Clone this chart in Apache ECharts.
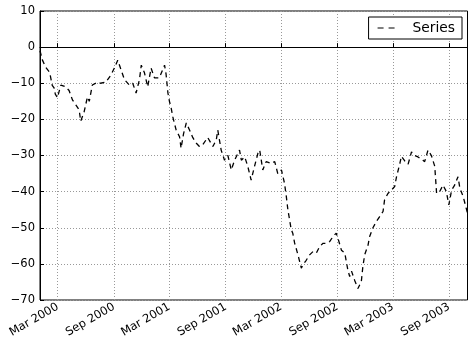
<!DOCTYPE html>
<html><head><meta charset="utf-8">
<script src="https://cdn.jsdelivr.net/npm/echarts@6/dist/echarts.min.js"></script>
<style>html,body{margin:0;padding:0;background:#fff}#c{width:474px;height:347px}</style>
</head><body><div id="c"></div>
<script>
const seriesName = 'Series';
const dates = [
'2000-01-03','2000-01-05','2000-01-11','2000-01-21','2000-02-02','2000-02-06','2000-02-12','2000-02-18','2000-02-22','2000-02-29',
'2000-03-11','2000-03-27','2000-04-07','2000-04-18','2000-04-29','2000-05-10','2000-05-15','2000-05-26','2000-06-06','2000-06-12',
'2000-06-22','2000-07-09','2000-07-19','2000-08-05','2000-08-22','2000-09-02','2000-09-13','2000-09-24','2000-10-05','2000-10-21',
'2000-11-01','2000-11-12','2000-11-23','2000-11-29','2000-12-09','2000-12-20','2000-12-31','2001-01-11','2001-01-27','2001-02-13',
'2001-02-18','2001-02-24','2001-03-01','2001-03-07','2001-03-12','2001-03-23','2001-04-03','2001-04-08','2001-04-16','2001-04-25',
'2001-05-06','2001-05-16','2001-05-28','2001-06-07','2001-06-18','2001-07-04','2001-07-21','2001-08-01','2001-08-06','2001-08-17',
'2001-08-28','2001-09-08','2001-09-19','2001-09-30','2001-10-16','2001-10-22','2001-11-02','2001-11-12','2001-11-23','2001-12-04',
'2001-12-15','2001-12-21','2001-12-31','2002-01-11','2002-01-28','2002-02-08','2002-02-18','2002-03-02','2002-03-12','2002-03-18',
'2002-03-23','2002-03-29','2002-04-03','2002-04-08','2002-04-14','2002-04-25','2002-05-06','2002-05-11','2002-05-22','2002-06-02',
'2002-06-13','2002-06-24','2002-07-05','2002-07-16','2002-07-27','2002-08-07','2002-08-17','2002-08-28','2002-09-03','2002-09-14',
'2002-09-25','2002-10-05','2002-10-11','2002-10-17','2002-10-27','2002-11-07','2002-11-18','2002-11-23','2002-11-29','2002-12-10',
'2002-12-15','2002-12-26','2003-01-06','2003-01-17','2003-01-28','2003-02-02','2003-02-13','2003-02-24','2003-03-07','2003-03-13',
'2003-03-24','2003-03-29','2003-04-09','2003-04-20','2003-05-01','2003-05-12','2003-05-22','2003-06-03','2003-06-13','2003-06-24',
'2003-07-05','2003-07-16','2003-07-22','2003-08-01','2003-08-12','2003-08-23','2003-08-31','2003-09-09','2003-09-19','2003-09-30',
'2003-10-06','2003-10-17','2003-10-28','2003-10-31'
];
const values = [
-1.0,-0.8,-3.6,-5.5,-6.8,-8.0,-10.6,-11.3,-13.0,-14.0,
-10.5,-11.0,-12.0,-14.6,-16.0,-17.4,-20.5,-18.0,-13.8,-15.0,
-10.5,-9.7,-10.0,-9.7,-7.7,-5.8,-3.6,-6.3,-9.0,-10.5,
-10.0,-12.7,-9.0,-5.0,-7.0,-11.0,-5.8,-8.5,-8.5,-5.0,
-7.5,-12.7,-15.0,-17.0,-19.3,-23.0,-24.8,-28.0,-24.0,-21.0,
-23.0,-25.0,-26.6,-27.5,-27.0,-25.0,-27.5,-25.7,-23.0,-28.5,
-31.3,-30.0,-34.0,-31.3,-28.5,-31.3,-30.4,-33.0,-36.8,-33.0,
-29.4,-28.5,-34.0,-31.7,-32.2,-31.7,-35.0,-34.0,-37.7,-41.4,
-45.0,-48.0,-50.5,-51.5,-54.2,-57.5,-61.2,-60.3,-59.0,-57.5,
-56.6,-57.0,-55.2,-54.3,-54.3,-53.8,-52.5,-51.5,-53.0,-56.2,
-57.0,-61.7,-63.5,-62.0,-64.5,-66.8,-64.9,-60.8,-57.5,-54.8,
-52.5,-50.0,-48.3,-46.9,-45.5,-42.3,-40.5,-39.6,-38.6,-35.9,
-32.2,-30.2,-31.5,-32.4,-29.0,-30.0,-30.4,-31.0,-31.7,-28.5,
-30.0,-33.0,-40.5,-40.0,-38.2,-40.0,-43.7,-39.6,-38.2,-35.9,
-39.0,-41.4,-45.0,-46.0
];
const xTickDates = ['2000-03-01','2000-09-01','2001-03-01','2001-09-01','2002-03-01','2002-09-01','2003-03-01','2003-09-01'];
const xTickLabels = ['Mar 2000','Sep 2000','Mar 2001','Sep 2001','Mar 2002','Sep 2002','Mar 2003','Sep 2003'];
const yMin = -70, yMax = 10, yStep = 10;

const FONT = 'DejaVu Sans';
const parse = s => { const p = s.split('-').map(Number); return Date.UTC(p[0], p[1] - 1, p[2]); };
const tickVals = xTickDates.map(parse);
const chart = echarts.init(document.getElementById('c'), null, {renderer: 'canvas'});
chart.setOption({
  animation: false,
  backgroundColor: '#fff',
  grid: {left: 40, right: 6.5, top: 11, bottom: 47, show: true, borderColor: '#000', borderWidth: 1, backgroundColor: 'transparent'},
  legend: {
    data: [{name: seriesName, icon: 'path://M0,0H6V1H0Z M11,0H17V1H11Z'}], right: 12, top: 17,
    padding: [4, 7, 4, 9],
    borderColor: '#000', borderWidth: 1, borderRadius: 0, backgroundColor: '#fff',
    itemWidth: 17, itemHeight: 1.3,
    itemStyle: {color: '#000', borderWidth: 0},
    textStyle: {fontFamily: FONT, fontSize: 13.8, color: '#000', padding: [0, 0, 0, 13]}
  },
  xAxis: {
    type: 'value',
    min: parse(dates[0]), max: parse(dates[dates.length - 1]),
    axisLine: {show: true, lineStyle: {color: '#000', width: 1}},
    axisTick: {show: true, inside: true, length: 4, customValues: tickVals, lineStyle: {color: '#000'}},
    axisLabel: {
      customValues: tickVals, rotate: 30, margin: 6,
      fontFamily: FONT, fontSize: 11.5, color: '#000',
      formatter: v => xTickLabels[tickVals.indexOf(v)]
    },
    splitLine: {show: true, lineStyle: {color: '#999', type: [1, 2], width: 1}}
  },
  yAxis: {
    type: 'value', min: yMin, max: yMax, interval: yStep,
    axisLine: {show: true, lineStyle: {color: '#000', width: 1}},
    axisTick: {show: true, inside: true, length: 4, lineStyle: {color: '#000'}},
    axisLabel: {fontFamily: FONT, fontSize: 11.5, color: '#000', margin: 5,
      formatter: v => String(v).replace('-', '\u2212')},
    splitLine: {show: true, lineStyle: {color: '#999', type: [1, 2], width: 1}}
  },
  series: [{
    name: seriesName, type: 'line', symbol: 'none',
    data: dates.map((d, i) => [parse(d), values[i]]),
    lineStyle: {color: '#000', width: 1.3, type: [5, 4]},
    itemStyle: {color: '#000'}
  }]
});
</script>
</body></html>
